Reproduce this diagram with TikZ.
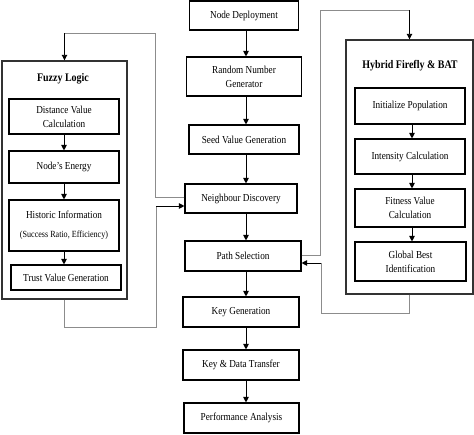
\documentclass[tikz,border=0pt]{standalone}
\usepackage{fontspec}
\setmainfont{Liberation Serif}[FakeStretch=0.86]
\usetikzlibrary{arrows.meta}
\begin{document}
\begin{tikzpicture}[x=1pt,y=-1pt,
  box/.style={draw=black,line width=1.1pt,rectangle,align=center,inner sep=1pt,
    font=\fontsize{10.7}{14}\selectfont},
  outer/.style={draw=black!80,line width=1.4pt,rectangle,inner sep=0pt},
  ttl/.style={font=\fontsize{11.6}{13}\selectfont\bfseries},
  arr/.style={draw=black,line width=0.9pt,-{Triangle[length=5.5pt,width=5.5pt]}},
  gline/.style={draw=black!45,line width=0.9pt}]
\useasboundingbox (0,0) rectangle (474,434);
% centre column
\node[box,minimum width=109pt,minimum height=29pt] (nd) at (244,15.5) {Node Deployment};
\node[box,minimum width=115pt,minimum height=39pt] (rng) at (244,76.5) {Random Number\\Generator};
\node[box,minimum width=110pt,minimum height=29pt] (svg) at (244,139.5) {Seed Value Generation};
\node[box,minimum width=112pt,minimum height=29pt] (ndisc) at (241,198.5) {Neighbour Discovery};
\node[box,minimum width=116pt,minimum height=30pt] (ps) at (243,256) {Path Selection};
\node[box,minimum width=116pt,minimum height=30pt] (kg) at (241,312) {Key Generation};
\node[box,minimum width=116pt,minimum height=30pt] (kdt) at (241,365) {Key \& Data Transfer};
\node[box,minimum width=115pt,minimum height=30pt] (pa) at (241.5,418) {Performance Analysis};
\foreach \a/\b in {nd/rng,rng/svg,svg/ndisc,ndisc/ps,ps/kg,kg/kdt,kdt/pa}
  \draw[arr] (\a.south -| 246,0) -- (\b.north -| 246,0);
% fuzzy logic
\node[outer,minimum width=125pt,minimum height=238pt] (fuzzy) at (64.5,180) {};
\node[ttl] (fuzzyt) at (63,79) {Fuzzy Logic};
\node[box,minimum width=110pt,minimum height=35pt] (dvc) at (64,116.5) {Distance Value\\Calculation};
\node[box,minimum width=110pt,minimum height=32pt] (ne) at (64,167) {Node’s Energy};
\node[box,minimum width=110pt,minimum height=51pt] (hi) at (64,225.5) {Historic Information\\[5pt]{\fontsize{9.4}{11}\selectfont(Success Ratio, Efficiency)}};
\node[box,minimum width=110pt,minimum height=25pt] (tvg) at (66,277.5) {Trust Value Generation};
\draw[arr] (dvc.south -| 64,0) -- (ne.north -| 64,0);
\draw[arr] (ne.south -| 64,0) -- (hi.north -| 64,0);
\draw[arr] (hi.south -| 64,0) -- (tvg.north -| 64,0);
% hybrid
\node[outer,minimum width=127pt,minimum height=254pt] (hybrid) at (409.5,167) {};
\node[ttl] (hybridt) at (410,66) {Hybrid Firefly \& BAT};
\node[box,minimum width=110pt,minimum height=36pt] (ip) at (410,106) {Initialize Population};
\node[box,minimum width=110pt,minimum height=35pt] (ic) at (410,156.5) {Intensity Calculation};
\node[box,minimum width=110pt,minimum height=38pt] (fvc) at (410,208) {Fitness Value\\Calculation};
\node[box,minimum width=111pt,minimum height=39pt] (gbi) at (410.5,261.5) {Global Best\\Identification};
\draw[arr] (ip.south -| 412,0) -- (ic.north -| 412,0);
\draw[arr] (ic.south -| 412,0) -- (fvc.north -| 412,0);
\draw[arr] (fvc.south -| 412,0) -- (gbi.north -| 412,0);
% left loops
\coordinate (c1) at (fuzzy.north |- 0,33);
\draw[gline] (ndisc.west |- 0,197) -| (155,33) -- (c1);
\draw[arr] (c1) -- (fuzzy.north);
\coordinate (c2) at (156,206);
\draw[gline] (fuzzy.south) -- (fuzzy.south |- 0,327) -| (c2);
\draw[arr] (c2) -- (ndisc.west |- c2);
% right loops
\coordinate (c3) at (hybrid.north |- 0,10);
\draw[gline] (ps.east |- 0,255) -| (320,10) -- (c3);
\draw[arr] (c3) -- (hybrid.north);
\coordinate (c4) at (321,263);
\draw[gline] (hybrid.south) -- (hybrid.south |- 0,313) -| (c4);
\draw[arr] (c4) -- (ps.east |- c4);
\end{tikzpicture}
\end{document}
